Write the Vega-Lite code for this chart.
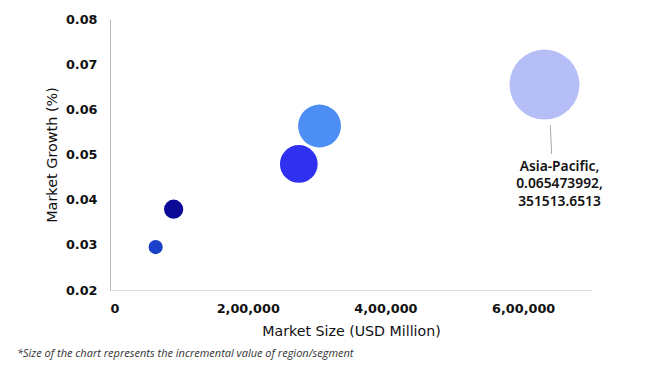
{
  "$schema": "https://vega.github.io/schema/vega-lite/v6.json",
  "width": 482,
  "height": 271,
  "autosize": {"type": "none"},
  "padding": {"left": 110, "top": 19, "right": 58, "bottom": 80},
  "background": "white",
  "config": {"view": {"stroke": null}, "font": "DejaVu Sans"},
  "title": {
    "text": "*Size of the chart represents the incremental value of region/segment",
    "orient": "bottom",
    "anchor": "start",
    "frame": "group",
    "dx": -93,
    "offset": 9,
    "font": "Open Sans",
    "fontSize": 11,
    "fontStyle": "italic",
    "fontWeight": "normal",
    "color": "#333333"
  },
  "data": {
    "values": [
      {"region": "Asia-Pacific", "market_size": 631000, "growth": 0.065473992, "incremental": 351513.6513, "label": "Asia-Pacific,\n0.065473992,\n351513.6513"},
      {"region": "North America", "market_size": 304300, "growth": 0.0563, "incremental": 132000, "label": ""},
      {"region": "Europe", "market_size": 274200, "growth": 0.0479, "incremental": 102200, "label": ""},
      {"region": "Middle East & Africa", "market_size": 92400, "growth": 0.0379, "incremental": 26300, "label": ""},
      {"region": "South America", "market_size": 66300, "growth": 0.0295, "incremental": 14400, "label": ""}
    ]
  },
  "layer": [
    {
      "transform": [{"filter": "datum.region === 'Asia-Pacific'"}],
      "mark": {"type": "rule", "color": "#aaaaaa", "strokeWidth": 1},
      "encoding": {
        "x": {"datum": 639500, "type": "quantitative"},
        "y": {"datum": 0.0565, "type": "quantitative"},
        "x2": {"datum": 641400},
        "y2": {"datum": 0.0501}
      }
    },
    {
      "mark": {"type": "circle", "opacity": 1},
      "encoding": {
        "x": {
          "field": "market_size",
          "type": "quantitative",
          "scale": {"domain": [0, 700000]},
          "axis": {
            "title": "Market Size (USD Million)",
            "values": [0, 200000, 400000, 600000],
            "labelExpr": "datum.value === 0 ? '0' : format(datum.value / 100000, 'd') + ',00,000'",
            "grid": false,
            "ticks": false,
            "domainColor": "#dddddd",
            "labelFontSize": 12.8,
            "labelFontWeight": "bold",
            "labelColor": "#111111",
            "labelPadding": 12,
            "titleFontSize": 14.2,
            "titleFontWeight": "normal",
            "titleColor": "#111111",
            "titlePadding": 10
          }
        },
        "y": {
          "field": "growth",
          "type": "quantitative",
          "scale": {"domain": [0.02, 0.08], "zero": false},
          "axis": {
            "title": "Market Growth (%)",
            "values": [0.02, 0.03, 0.04, 0.05, 0.06, 0.07, 0.08],
            "format": ".2f",
            "grid": false,
            "ticks": false,
            "domainColor": "#bbbbbb",
            "labelFontSize": 12.8,
            "labelFontWeight": "bold",
            "labelColor": "#111111",
            "labelPadding": 13,
            "titleFontSize": 14.4,
            "titleFontWeight": "normal",
            "titleColor": "#111111",
            "titlePadding": 6
          }
        },
        "size": {
          "field": "incremental",
          "type": "quantitative",
          "scale": {"domain": [0, 351513.6513], "range": [0, 4900]},
          "legend": null
        },
        "color": {
          "field": "region",
          "type": "nominal",
          "scale": {
            "domain": ["Asia-Pacific", "North America", "Europe", "Middle East & Africa", "South America"],
            "range": ["#b5bef7", "#4d8ef5", "#3030f0", "#0a0a96", "#1a3fc8"]
          },
          "legend": null
        }
      }
    },
    {
      "transform": [{"filter": "datum.region === 'Asia-Pacific'"}],
      "mark": {
        "type": "text",
        "align": "center",
        "baseline": "top",
        "dx": 15,
        "dy": 75,
        "font": "Noto Sans",
        "fontSize": 13.8,
        "fontWeight": 600,
        "lineHeight": 17.7,
        "lineBreak": "\n",
        "color": "#111111"
      },
      "encoding": {
        "x": {"field": "market_size", "type": "quantitative"},
        "y": {"field": "growth", "type": "quantitative"},
        "text": {"field": "label"}
      }
    }
  ]
}
